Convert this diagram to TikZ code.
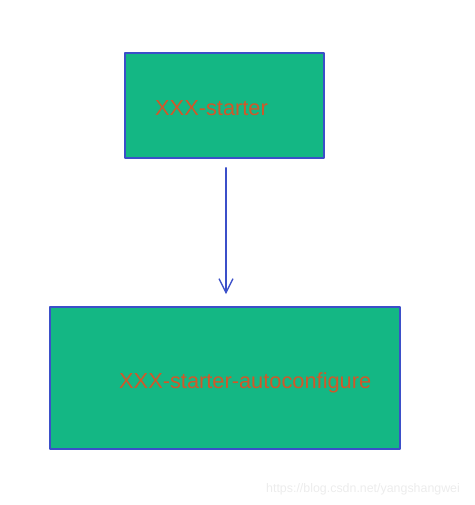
\documentclass[tikz,border=0pt]{standalone}
\usepackage{fontspec}
\setmainfont{Liberation Sans}
\usetikzlibrary{arrows.meta}
\definecolor{boxfill}{HTML}{14B784}
\definecolor{boxline}{HTML}{3B4FC9}
\definecolor{txt}{HTML}{D0582A}
\definecolor{wm}{HTML}{ECECEC}
\begin{document}
\begin{tikzpicture}[x=1pt,y=-1pt,
  box/.style={draw=boxline, fill=boxfill, line width=1.6pt, line join=round, inner sep=0pt},
  lbl/.style={text=txt, font=\fontsize{21.8}{24}\selectfont, anchor=west, inner sep=0pt},
  conn/.style={draw=boxline, line width=1.4pt, line cap=round, -{Straight Barb[length=14pt,width=14pt,line width=1.4pt]}}]
\useasboundingbox (0,0) rectangle (474,505);
\node[box, minimum width=199pt, minimum height=105pt] (top) at (224.5,105.5) {};
\node[box, minimum width=350pt, minimum height=142pt] (bot) at (225,378) {};
\node[lbl] (t1) at (155,108) {XXX-starter};
\node[lbl] (t2) at (119,383) {XXX-starter-autoconfigure};
\draw[conn] ([xshift=1.5pt,yshift=-9pt]top.south) -- ([xshift=1pt,yshift=12pt]bot.north);
\node[text=wm, font=\fontsize{12.4}{14}\selectfont, anchor=west, inner sep=0pt] (wm) at (266,489) {https://blog.csdn.net/yangshangwei};
\end{tikzpicture}
\end{document}
